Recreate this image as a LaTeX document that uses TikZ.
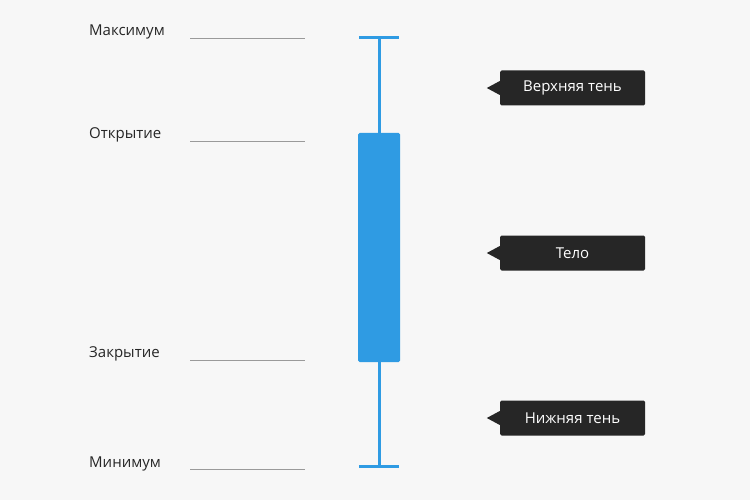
\documentclass[tikz,border=0pt]{standalone}
\usepackage{fontspec}
\setmainfont{Open Sans}
\definecolor{bg}{HTML}{F7F7F7}
\definecolor{candle}{HTML}{2F9BE3}
\definecolor{tag}{HTML}{262626}
\definecolor{guide}{HTML}{9A9A9A}
\begin{document}
\begin{tikzpicture}[x=1pt,y=-1pt,
  lbl/.style={anchor=west,font=\fontsize{15}{18}\selectfont,text=black!85,inner sep=0},
  guideline/.style={draw=guide,line width=0.6pt},
  wick/.style={draw=candle,line width=3pt},
  tagbox/.style={fill=tag,text=white,minimum width=145,minimum height=35,inner sep=0,font=\fontsize{15}{18}\selectfont,rounded corners=1.5pt}]
\fill[bg] (0,0) rectangle (750,500);
\useasboundingbox (0,0) rectangle (750,500);
% labels
\node[lbl] (lmax) at (89,32) {Максимум};
\node[lbl] (lopen) at (89,135) {Открытие};
\node[lbl] (lclose) at (89,354) {Закрытие};
\node[lbl] (lmin) at (89,464) {Минимум};
\coordinate (g1a) at (190,38); \coordinate (g1b) at (305,38);
\coordinate (g2a) at (190,141); \coordinate (g2b) at (305,141);
\coordinate (g3a) at (190,360); \coordinate (g3b) at (305,360);
\coordinate (g4a) at (190,469); \coordinate (g4b) at (305,469);
\draw[guideline] (g1a)--(g1b); \draw[guideline] (g2a)--(g2b);
\draw[guideline] (g3a)--(g3b); \draw[guideline] (g4a)--(g4b);
% candle
\coordinate (top) at (379,38); \coordinate (bot) at (379,466);
\coordinate (tl) at (359,38); \coordinate (tr) at (399,38);
\coordinate (bl) at (359,466); \coordinate (br) at (399,466);
\draw[wick] (top)--(bot);
\draw[wick] (tl)--(tr);
\draw[wick] (bl)--(br);
\node[fill=candle,minimum width=42,minimum height=229,inner sep=0,rounded corners=1.5pt] (body) at (379,247.5) {};
% tags
\foreach \n/\y/\t in {t1/88/Верхняя тень, t2/253/Тело, t3/418/Нижняя тень}{
  \node[tagbox] (\n) at (572.5,\y) {\t};
  \fill[tag] (\n.west) ++(0,-7) -- ++(-13,7) -- ++(13,7) -- cycle;
}
\end{tikzpicture}
\end{document}
